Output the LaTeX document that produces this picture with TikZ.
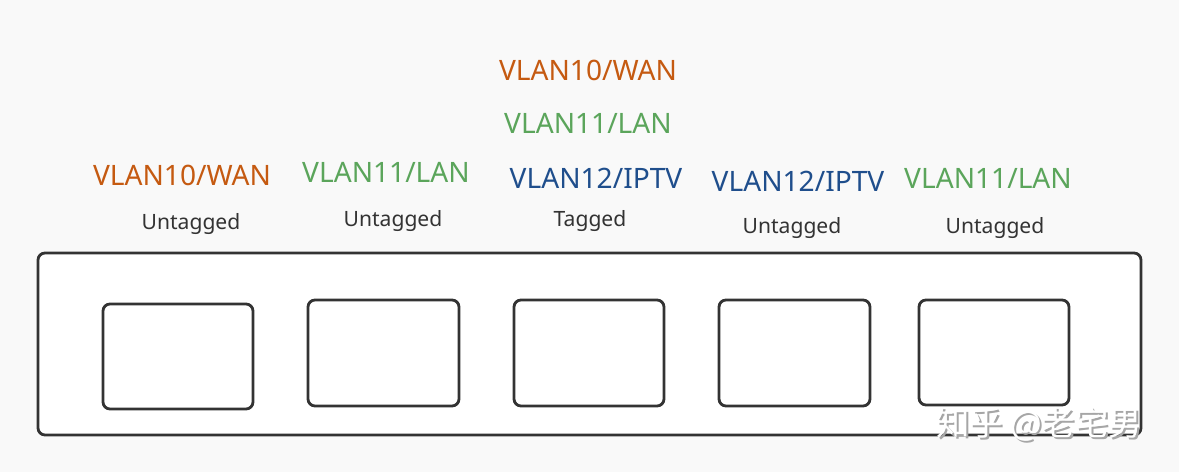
\documentclass[tikz,border=0pt]{standalone}
\usepackage{fontspec}
\setmainfont{Noto Sans}
\newfontfamily\cjk{Noto Sans CJK SC}
\usepackage{tikz}
\definecolor{wanc}{HTML}{C55A11}
\definecolor{lanc}{HTML}{5BA55B}
\definecolor{iptvc}{HTML}{1F4E8C}
\definecolor{linec}{HTML}{333333}
\definecolor{bgc}{HTML}{F9F9F9}
\tikzset{
	port/.style={draw=linec,line width=1.6pt,rounded corners=4pt,fill=white},
	vlan/.style={font=\fontsize{16}{18}\selectfont},
	tagtxt/.style={font=\fontsize{12}{14}\selectfont,text=linec},
}

\begin{document}
\begin{tikzpicture}[x=.02cm,y=-.02cm]
	\fill[bgc] (0,0) rectangle (1179,472);
	\useasboundingbox (0,0) rectangle (1179,472);
	%	switch body
	\draw[port] (38,253) rectangle (1141,435);
	\draw[port] (103,304) rectangle (253,409);
	\draw[port] (308,300) rectangle (459,406);
	\draw[port] (514,300) rectangle (664,406);
	\draw[port] (719,300) rectangle (870,406);
	\draw[port] (919,300) rectangle (1069,405);
	
	%	port 1
	\node[vlan,text=wanc] (w1) at (182,175) {VLAN10/WAN};
	\node[tagtxt] (u1) at (191,224) {Untagged};
	%	port 2
	\node[vlan,text=lanc] (l2) at (386,172) {VLAN11/LAN};
	\node[tagtxt] (u2) at (393,221) {Untagged};
	%	port 3
	\node[vlan,text=wanc] (w3) at (588,70) {VLAN10/WAN};
	\node[vlan,text=lanc] (l3) at (588,123) {VLAN11/LAN};
	\node[vlan,text=iptvc] (i3) at (596,178) {VLAN12/IPTV};
	\node[tagtxt] (t3) at (590,221) {Tagged};
	%	port 4
	\node[vlan,text=iptvc] (i4) at (798,181) {VLAN12/IPTV};
	\node[tagtxt] (u4) at (792,228) {Untagged};
	%	port 5
	\node[vlan,text=lanc] (l5) at (988,178) {VLAN11/LAN};
	\node[tagtxt] (u5) at (995,228) {Untagged};
	
	%	watermark
	\node[font=\cjk\fontsize{19}{21}\selectfont,text=black!35] (wms) at (1041,426) {知乎 @老宅男};
	\node[font=\cjk\fontsize{19}{21}\selectfont,text=white] (wm) at (1039,424) {知乎 @老宅男};
\end{tikzpicture}
\end{document}
